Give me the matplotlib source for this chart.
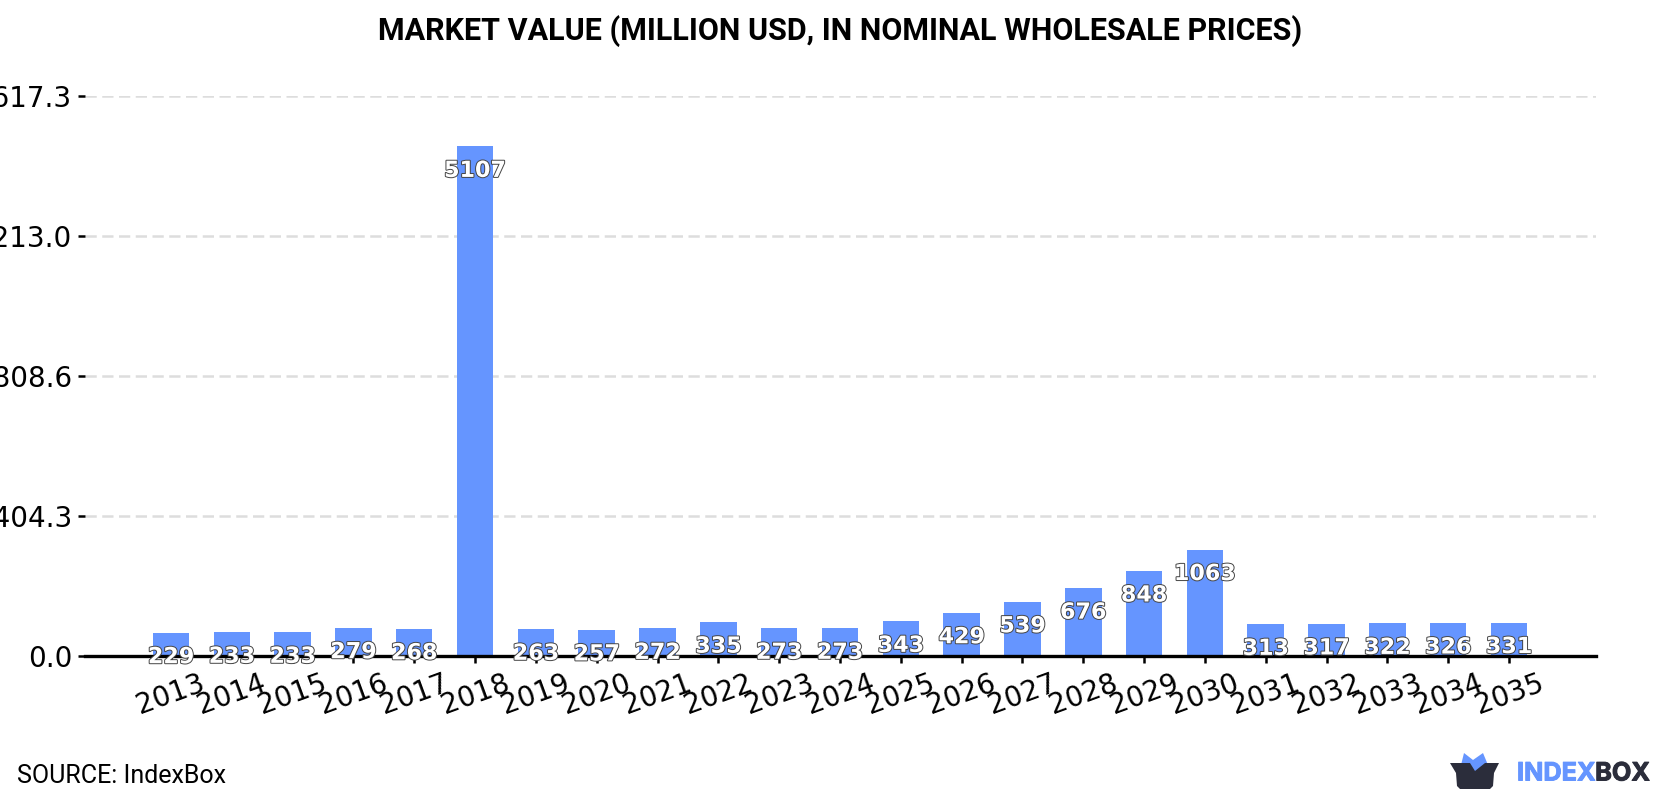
import matplotlib
matplotlib.use("Agg")
import matplotlib.pyplot as plt
import matplotlib.patheffects as pe
from matplotlib.patches import Polygon

years = [2013, 2014, 2015, 2016, 2017, 2018, 2019, 2020, 2021, 2022, 2023, 2024,
         2025, 2026, 2027, 2028, 2029, 2030, 2031, 2032, 2033, 2034, 2035]
values = [229, 233, 233, 279, 268, 5107, 263, 257, 272, 335, 273, 273,
          343, 429, 539, 676, 848, 1063, 313, 317, 322, 326, 331]
y_ticks = [0.0, 1404.3, 2808.6, 4213.0, 5617.3]

BLUE = "#6595FF"
DARK = "#2B2D3B"
W, H = 1680, 800

fig = plt.figure(figsize=(W / 100, H / 100), dpi=100)
ax = fig.add_axes([84.6 / W, 1 - 655.6 / H, (1596 - 84.6) / W, (655.6 - 95.6) / H])

positions = list(range(len(years)))
ax.bar(positions, values, width=0.6, color=BLUE, zorder=2)
ax.set_xlim(-1.42, 22 + 1.43)
ax.set_ylim(0, y_ticks[-1])

ax.set_yticks(y_ticks)
ax.set_yticklabels([f"{t:.1f}" for t in y_ticks], fontsize=20)
ax.set_xticks(positions)
ax.set_xticklabels([str(y) for y in years], fontsize=20, rotation=20, ha="center")
ax.tick_params(axis="both", length=5, width=1.8, colors="black")
ax.tick_params(axis="x", pad=4.7)
ax.tick_params(axis="y", pad=4)

ax.grid(axis="y", color="#DDDDDD", linestyle=(0, (4.5, 2.2)), linewidth=1.8, zorder=1)
ax.set_axisbelow(True)
for side in ("top", "right", "left"):
    ax.spines[side].set_visible(False)
ax.spines["bottom"].set_linewidth(2.4)
ax.spines["bottom"].set_zorder(3)

# Value labels hang a fixed distance below each bar top
for x, v in zip(positions, values):
    ax.annotate(str(v), (x, v), xytext=(0, -17.6), textcoords="offset points",
                ha="center", va="center", fontsize=16, fontweight="bold",
                color="white", zorder=5, annotation_clip=False,
                path_effects=[pe.withStroke(linewidth=1.4, foreground="#444444")])

fig.text(0.5, 1 - 31 / H, "MARKET VALUE (MILLION USD, IN NOMINAL WHOLESALE PRICES)",
         ha="center", va="center", fontsize=22, fontweight="bold", family="Roboto", color="black")
fig.text(17 / W, 1 - 776 / H, "SOURCE: IndexBox", ha="left", va="center",
         fontsize=18, family="Roboto", color="black")

# Brand mark: a dark basket with a blue crown, followed by the wordmark
def fig_xy(px, py):
    return (px / W, 1 - py / H)

crown = [(1461, 765), (1464, 753), (1473, 760), (1483, 753), (1488, 765), (1475, 773)]
fig.add_artist(Polygon([fig_xy(*p) for p in crown], closed=True, transform=fig.transFigure,
                       facecolor=BLUE, edgecolor="none"))
body = [(1450, 763), (1470, 763), (1475, 771), (1485, 763), (1499, 763), (1494, 773),
        (1493, 786), (1490, 789), (1460, 789), (1457, 786), (1456, 773)]
fig.add_artist(Polygon([fig_xy(*p) for p in body], closed=True, transform=fig.transFigure,
                       facecolor=DARK, edgecolor="none"))

word_a = fig.text(1517 / W, 1 - 774 / H, "INDEX", ha="left", va="center", fontsize=18.2,
                  fontweight="bold", family="Inter", color=BLUE,
                  path_effects=[pe.withStroke(linewidth=0.7, foreground=BLUE)])
fig.canvas.draw()
bb = word_a.get_window_extent()
fig.text(bb.x1 / W, 1 - 774 / H, "BOX", ha="left", va="center", fontsize=18.2,
         fontweight="bold", family="Inter", color=DARK,
         path_effects=[pe.withStroke(linewidth=0.7, foreground=DARK)])

fig.savefig("out.png", dpi=100, facecolor="white")
